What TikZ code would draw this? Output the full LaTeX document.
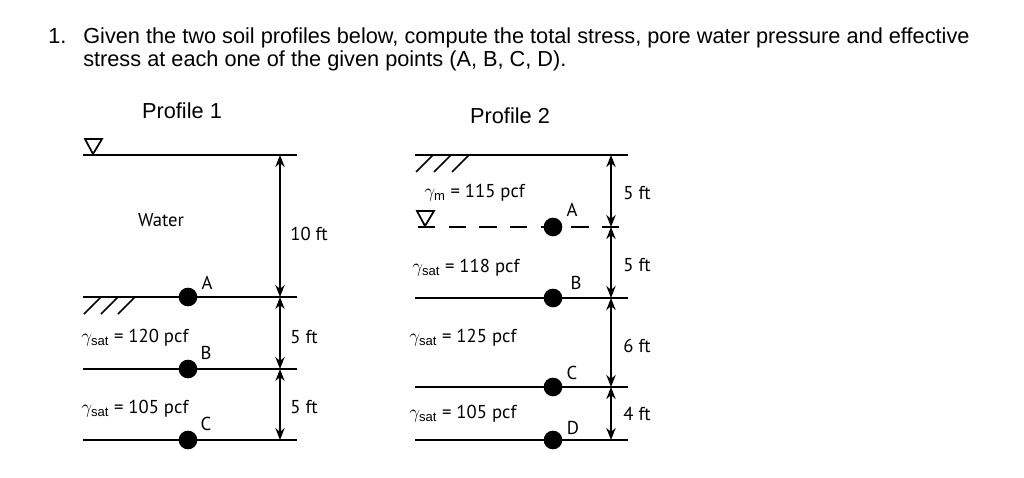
\documentclass[tikz,border=0pt]{standalone}
\usepackage{fontspec}
\usetikzlibrary{arrows.meta}
\setmainfont{Liberation Sans}
\newfontfamily\lab{PT Sans}
\begin{document}
\begin{tikzpicture}[x=0.75pt,y=-0.75pt,
  ln/.style={line width=1.4pt},
  dim/.style={line width=1.4pt,{Stealth[length=9pt,width=7pt]}-{Stealth[length=9pt,width=7pt]}},
  dot/.style={circle,fill=black,inner sep=0pt,minimum size=14pt},
  lbl/.style={font=\lab\fontsize{14}{16}\selectfont,inner sep=0pt},
  ttl/.style={font=\fontsize{16.3}{18}\selectfont,inner sep=0pt,anchor=base west}]
\useasboundingbox (0,0) rectangle (1024,478);
% title
\node[ttl] (n1) at (48,44) {1.};
\node[ttl] (t1) at (83,44) {Given the two soil profiles below, compute the total stress, pore water pressure and effective};
\node[ttl] (t2) at (83,67) {stress at each one of the given points (A, B, C, D).};
\node[ttl,anchor=center] (p1) at (182,111) {Profile 1};
\node[ttl,anchor=center] (p2) at (510,116) {Profile 2};
% Profile 1
\coordinate (a0) at (83,155); \coordinate (a1) at (297,155);
\draw[ln] (a0) -- (a1);
\draw[line width=1.3pt] (85,139) -- (102,139) -- (93,154) -- cycle;
\draw[ln] (83,297) -- (297,297);
\draw[ln] (83,369) -- (297,369);
\draw[ln] (83,440) -- (297,440);
\foreach \x in {84,101,118} \draw[line width=1.2pt] (\x,314) -- (\x+17,297);
\node[dot] (A1) at (188,297) {};
\node[dot] (B1) at (188,369) {};
\node[dot] (C1) at (188,440) {};
\coordinate (d0) at (280,155); \coordinate (d1) at (280,297);
\coordinate (d2) at (280,369); \coordinate (d3) at (280,440);
\draw[dim] (d0) -- (d1); \draw[dim] (d1) -- (d2); \draw[dim] (d2) -- (d3);
\node[lbl] (w) at (161,220) {Water};
\node[lbl] (l10) at (309,234) {10 ft};
\node[lbl] (l5a) at (304,337) {5 ft};
\node[lbl] (l5b) at (304,407) {5 ft};
\node[lbl] (LA) at (207,283) {A};
\node[lbl] (LB) at (206,353) {B};
\node[lbl] (LC) at (206,424) {C};
\node[lbl,anchor=west] (g1) at (81,338) {$\gamma_{\mathrm{sat}}$ = 120 pcf};
\node[lbl,anchor=west] (g2) at (81,409) {$\gamma_{\mathrm{sat}}$ = 105 pcf};
% Profile 2
\draw[ln] (415,155) -- (628,155);
\foreach \x in {416,434,452} \draw[line width=1.2pt] (\x,172) -- (\x+17,155);
\draw[ln,dash pattern=on 13pt off 10pt] (418,227) -- (628,227);
\draw[line width=1.3pt] (417,211) -- (434,211) -- (425,226) -- cycle;
\draw[ln] (415,298) -- (628,298);
\draw[ln] (415,387) -- (628,387);
\draw[ln] (415,440) -- (628,440);
\node[dot] (A2) at (553,227) {};
\node[dot] (B2) at (553,298) {};
\node[dot] (C2) at (553,387) {};
\node[dot] (D2) at (553,440) {};
\coordinate (e0) at (611,155); \coordinate (e1) at (611,227);
\coordinate (e2) at (611,298); \coordinate (e3) at (611,387); \coordinate (e4) at (611,440);
\draw[dim] (e0) -- (e1); \draw[dim] (e1) -- (e2); \draw[dim] (e2) -- (e3); \draw[dim] (e3) -- (e4);
\node[lbl] (m5a) at (637,193) {5 ft};
\node[lbl] (m5b) at (637,265) {5 ft};
\node[lbl] (m6) at (637,346) {6 ft};
\node[lbl] (m4) at (637,414) {4 ft};
\node[lbl] (LA2) at (572,210) {A};
\node[lbl] (LB2) at (576,283) {B};
\node[lbl] (LC2) at (572,373) {C};
\node[lbl] (LD2) at (573,428) {D};
\node[lbl,anchor=west] (h1) at (424,193) {$\gamma_{\mathrm{m}}$ = 115 pcf};
\node[lbl,anchor=west] (h2) at (412,268) {$\gamma_{\mathrm{sat}}$ = 118 pcf};
\node[lbl,anchor=west] (h3) at (409,338) {$\gamma_{\mathrm{sat}}$ = 125 pcf};
\node[lbl,anchor=west] (h4) at (409,414) {$\gamma_{\mathrm{sat}}$ = 105 pcf};
\end{tikzpicture}
\end{document}
